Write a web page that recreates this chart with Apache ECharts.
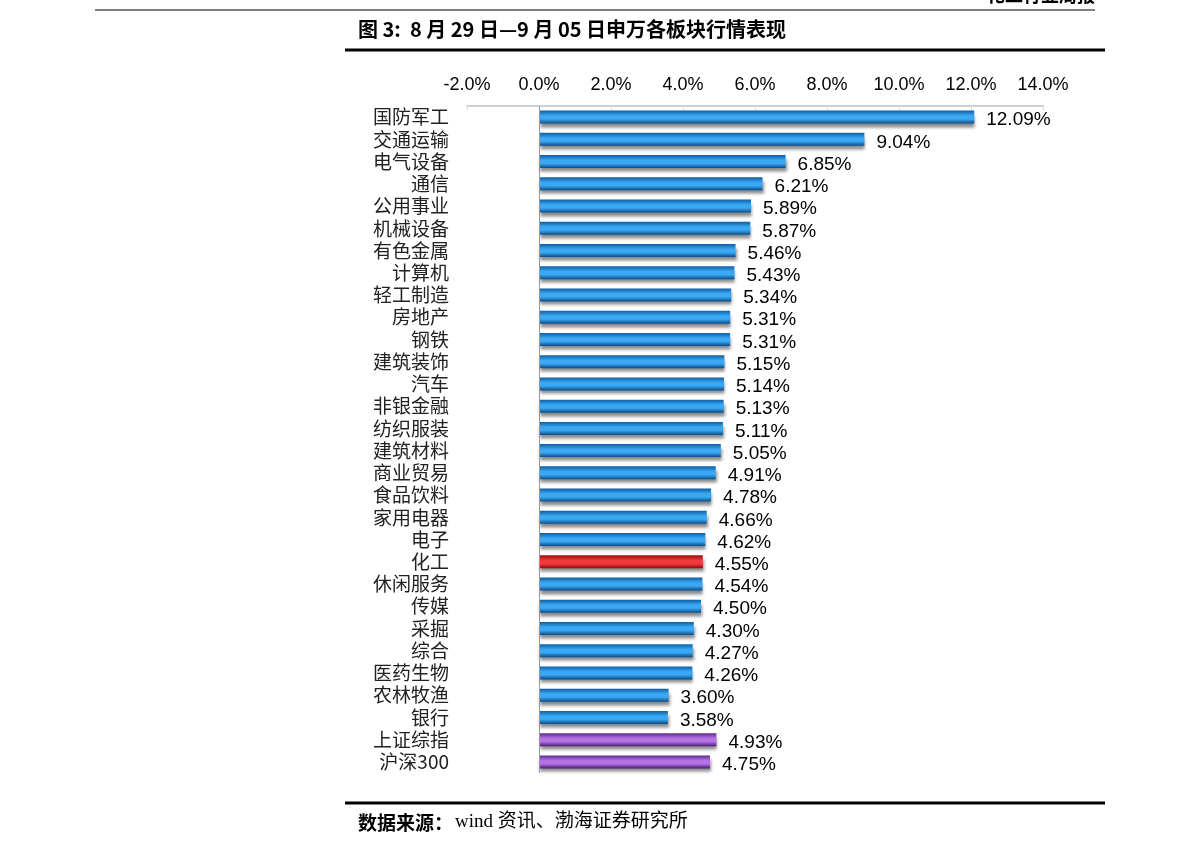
<!DOCTYPE html>
<html>
<head>
<meta charset="utf-8">
<script src="https://cdn.jsdelivr.net/npm/echarts@6/dist/echarts.min.js"></script>
<style>
  html, body { margin: 0; padding: 0; background: #fff; }
  #chart { width: 1191px; height: 857px; }
</style>
</head>
<body>
<div id="chart"></div>
<script>
// 申万各板块 8/29-9/05 涨跌幅 (%)
var categories = ['国防军工', '交通运输', '电气设备', '通信', '公用事业', '机械设备', '有色金属', '计算机',
  '轻工制造', '房地产', '钢铁', '建筑装饰', '汽车', '非银金融', '纺织服装', '建筑材料', '商业贸易',
  '食品饮料', '家用电器', '电子', '化工', '休闲服务', '传媒', '采掘', '综合', '医药生物', '农林牧渔',
  '银行', '上证综指', '沪深300']
var values = [12.09, 9.04, 6.85, 6.21, 5.89, 5.87, 5.46, 5.43,
  5.34, 5.31, 5.31, 5.15, 5.14, 5.13, 5.11, 5.05, 4.91,
  4.78, 4.66, 4.62, 4.55, 4.54, 4.50, 4.30, 4.27, 4.26, 3.60,
  3.58, 4.93, 4.75]
var xTicks = { min: -2, max: 14, interval: 2 }

function grad(c1, c2, c3) {
  return new echarts.graphic.LinearGradient(0, 0, 0, 1, [
    { offset: 0, color: c1 },
    { offset: 0.4, color: c2 },
    { offset: 0.65, color: c2 },
    { offset: 1, color: c3 }
  ])
}
var blue = grad('#0c5ea8', '#3aa8f2', '#0a4a88')
var red = grad('#9c0c0c', '#f23a3a', '#8a0909')
var purple = grad('#5e2590', '#b574e6', '#4d1c78')
var special = { '化工': red, '上证综指': purple, '沪深300': purple }

var barData = values.map(function(v, i) {
  return { value: v, itemStyle: { color: special[categories[i]] || blue } }
})

var chart = echarts.init(document.getElementById('chart'))
chart.setOption({
  animation: false,
  textStyle: { fontFamily: 'Liberation Sans, Noto Sans CJK SC, sans-serif' },
  grid: { left: 467, right: 148, top: 106, bottom: 84 },
  graphic: [
    { type: 'line', shape: { x1: 95, y1: 10, x2: 1095, y2: 10 }, style: { stroke: '#000', lineWidth: 1 } },
    { type: 'text', right: 96, top: -14, style: { text: '化工行业周报', font: 'bold 18px "Noto Sans CJK SC"', fill: '#000' } },
    { type: 'text', left: 358, top: 19, style: { text: '图 3:  8 月 29 日—9 月 05 日申万各板块行情表现', font: 'bold 20px "Noto Sans CJK SC"', fill: '#000' } },
    { type: 'line', shape: { x1: 345, y1: 50, x2: 1105, y2: 50 }, style: { stroke: '#000', lineWidth: 3 } },
    { type: 'line', shape: { x1: 345, y1: 803, x2: 1105, y2: 803 }, style: { stroke: '#000', lineWidth: 3 } },
    { type: 'text', left: 358, top: 813, style: { text: '数据来源：', font: 'bold 19px "Noto Sans CJK SC"', fill: '#000' } },
    { type: 'text', left: 455, top: 813, style: { text: 'wind 资讯、渤海证券研究所', font: '19px "Liberation Serif", "Noto Sans CJK SC"', fill: '#000' } }
  ],
  xAxis: {
    type: 'value',
    position: 'top',
    min: xTicks.min,
    max: xTicks.max,
    interval: xTicks.interval,
    splitLine: { show: false },
    axisLine: { show: true, lineStyle: { color: '#cfcfcf', width: 2 } },
    axisTick: { show: true, inside: true, length: 4, lineStyle: { color: '#d8d8d8' } },
    axisLabel: {
      margin: 12,
      fontSize: 18,
      color: '#000',
      formatter: function(v) { return v.toFixed(1) + '%' }
    }
  },
  yAxis: {
    type: 'category',
    inverse: true,
    data: categories,
    axisLine: { show: false },
    axisTick: { show: false },
    axisLabel: {
      interval: 0,
      margin: 18,
      fontSize: 19,
      color: '#222',
      fontFamily: 'Noto Sans CJK SC'
    }
  },
  series: [
    {
      type: 'bar',
      barWidth: 13,
      data: barData,
      itemStyle: {
        shadowColor: 'rgba(0,0,0,0.45)',
        shadowBlur: 3,
        shadowOffsetY: 4,
        shadowOffsetX: 1
      },
      label: {
        show: true,
        position: 'right',
        distance: 12,
        offset: [0, 3],
        fontSize: 19,
        color: '#000',
        formatter: function(p) { return p.value.toFixed(2) + '%' }
      },
      markLine: {
        silent: true,
        symbol: 'none',
        label: { show: false },
        lineStyle: { color: '#999', width: 1, type: 'solid' },
        data: [{ xAxis: 0 }]
      }
    }
  ]
})
</script>
</body>
</html>
